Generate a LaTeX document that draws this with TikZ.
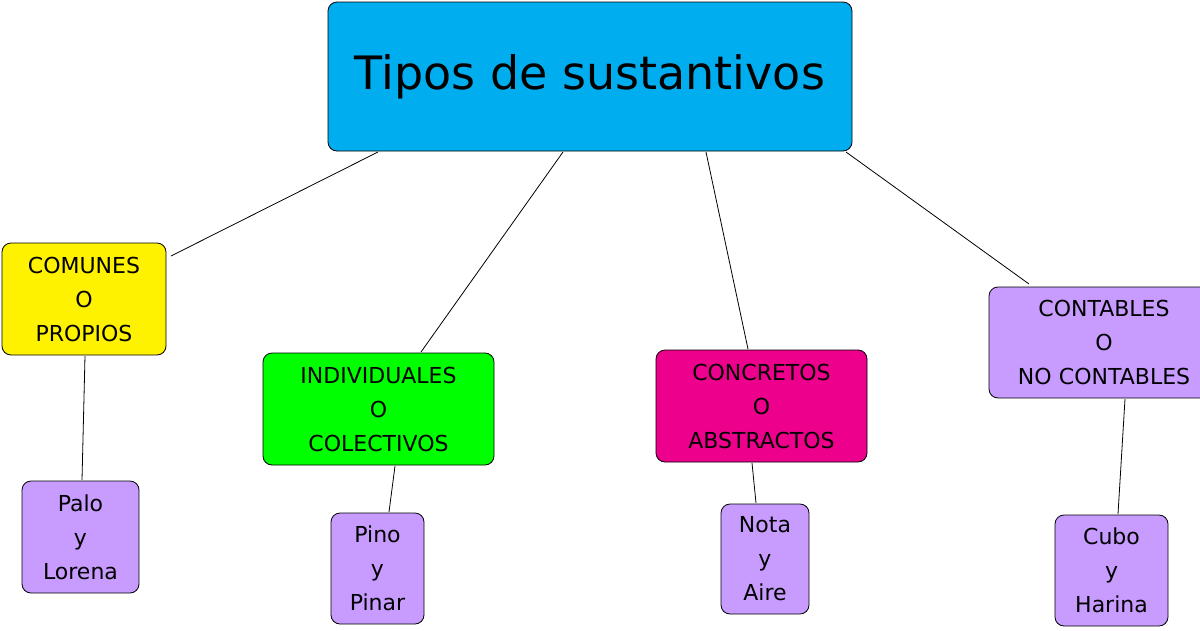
\documentclass[tikz,border=0pt]{standalone}
\usepackage{fontspec}
\setmainfont{DejaVu Sans}
\begin{document}
\begin{tikzpicture}[x=1pt,y=-1pt,
  box/.style={draw=black,line width=0.8pt,rounded corners=9pt,inner sep=0pt,align=center,font=\fontsize{22}{34}\selectfont},
  ln/.style={line width=0.8pt}]
\useasboundingbox (0,0) rectangle (1200,630);
\clip (0,0) rectangle (1200,630);
\definecolor{lav}{HTML}{C89BFF}
\node[box,fill=cyan,minimum width=524pt,minimum height=149pt,font=\fontsize{46}{50}\selectfont] (t) at (590,76.5) {Tipos de sustantivos};
\node[box,fill=yellow,minimum width=164pt,minimum height=112pt] (a) at (84,299) {COMUNES\\O\\PROPIOS};
\node[box,fill=green,minimum width=231pt,minimum height=112pt] (b) at (378.5,409) {INDIVIDUALES\\O\\COLECTIVOS};
\node[box,fill=magenta,minimum width=211pt,minimum height=112pt] (c) at (761.5,406) {CONCRETOS\\O\\ABSTRACTOS};
\node[box,fill=lav,minimum width=230pt,minimum height=111pt,text width=230pt] (d) at (1104,342.5) {CONTABLES\\O\\NO CONTABLES};
\node[box,fill=lav,minimum width=117pt,minimum height=112pt] (a1) at (80.5,537) {Palo\\y\\Lorena};
\node[box,fill=lav,minimum width=93pt,minimum height=111pt] (b1) at (377.5,568.5) {Pino\\y\\Pinar};
\node[box,fill=lav,minimum width=88pt,minimum height=110pt] (c1) at (765,559) {Nota\\y\\Aire};
\node[box,fill=lav,minimum width=113pt,minimum height=111pt] (d1) at (1111.5,570.5) {Cubo\\y\\Harina};
\coordinate (t1) at (378,152); \coordinate (ta) at (171,256);
\coordinate (t2) at (563,152); \coordinate (tb) at (421,352);
\coordinate (t3) at (706,152); \coordinate (tc) at (748,349);
\coordinate (t4) at (846,152); \coordinate (td) at (1029,284);
\coordinate (a0) at (85,356); \coordinate (a2) at (82,480);
\coordinate (b0) at (395,466); \coordinate (b2) at (389,512);
\coordinate (c0) at (752,463); \coordinate (c2) at (756,503);
\coordinate (d0) at (1125,399); \coordinate (d2) at (1118,514);
\foreach \p/\q in {t1/ta,t2/tb,t3/tc,t4/td,a0/a2,b0/b2,c0/c2,d0/d2} \draw[ln] (\p)--(\q);
\end{tikzpicture}
\end{document}
